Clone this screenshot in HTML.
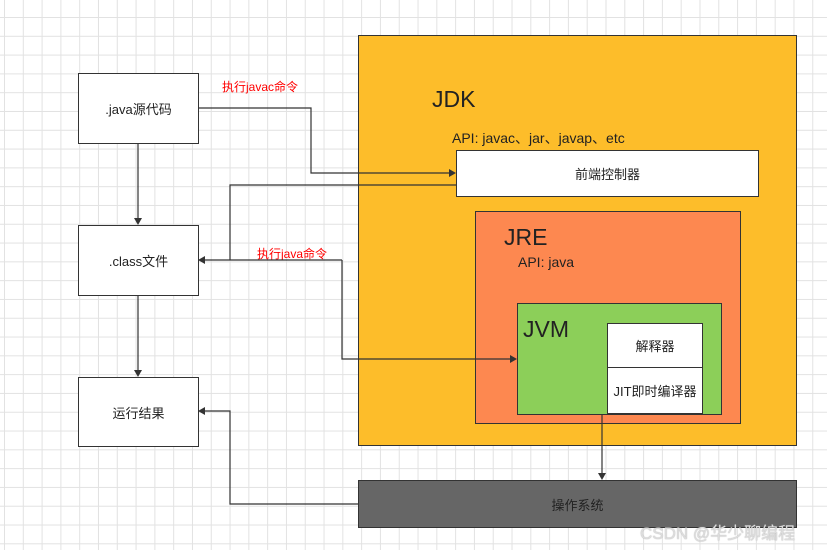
<!DOCTYPE html>
<html><head><meta charset="utf-8"><style>
html,body{margin:0;padding:0;}
body{width:827px;height:550px;overflow:hidden;position:relative;background-color:#fff;
background-image:linear-gradient(#e2e2e2 1px,transparent 1px),linear-gradient(90deg,#e2e2e2 1px,transparent 1px);
background-size:18.8px 18.8px;background-position:4px 17px;font-family:"Liberation Sans","Noto Sans CJK SC",sans-serif;}
.b{position:absolute;box-sizing:border-box;border:1px solid #333;display:flex;align-items:center;justify-content:center;font-size:13px;color:#222;}
.t{position:absolute;white-space:nowrap;color:#222;}
svg{position:absolute;left:0;top:0;}
</style></head><body>
<div class="b" style="left:78px;top:73px;width:121px;height:71px;background:#fff">.java源代码</div>
<div class="b" style="left:78px;top:225px;width:121px;height:71px;background:#fff">.class文件</div>
<div class="b" style="left:78px;top:377px;width:121px;height:70px;background:#fff">运行结果</div>
<div class="b" style="left:358px;top:35px;width:439px;height:411px;background:#fdbd2a"></div>
<div class="b" style="left:456px;top:150px;width:303px;height:47px;background:#fff">前端控制器</div>
<div class="b" style="left:475px;top:211px;width:266px;height:213px;background:#fd8850"></div>
<div class="b" style="left:517px;top:303px;width:205px;height:112px;background:#8ccf59"></div>
<div class="b" style="left:607px;top:323px;width:96px;height:45px;background:#fff">解释器</div>
<div class="b" style="left:607px;top:367px;width:96px;height:47px;background:#fff">JIT即时编译器</div>
<div class="b" style="left:358px;top:480px;width:439px;height:48px;background:#666">操作系统</div>
<div class="t" style="left:432px;top:86px;font-size:23px">JDK</div>
<div class="t" style="left:452px;top:128px;font-size:14px">API: javac、jar、javap、etc</div>
<div class="t" style="left:504px;top:224px;font-size:23px">JRE</div>
<div class="t" style="left:518px;top:254px;font-size:14px">API: java</div>
<div class="t" style="left:523px;top:316px;font-size:23px">JVM</div>
<div class="t" style="left:222px;top:78px;font-size:12px;color:#f00">执行javac命令</div>
<div class="t" style="left:257px;top:245px;font-size:12px;color:#f00">执行java命令</div>
<div class="t" style="left:640px;top:519px;font-size:17px;color:#ddd;text-shadow:0 0 1px #999">CSDN @华少聊编程</div>
<svg width="827" height="550" fill="none" stroke="#333" stroke-width="1.2">
<polyline points="199,108 311,108 311,173 451,173"/>
<polyline points="457,185 230,185 230,260"/>
<polyline points="342,260 203,260"/>
<polyline points="342,260 342,359 512,359"/>
<polyline points="358,504 230,504 230,411 203,411"/>
<polyline points="602,415 602,475"/>
<polyline points="138,144 138,220"/>
<polyline points="138,296 138,372"/>
<g fill="#333" stroke="none">
<polygon points="456,173 449,169 449,177"/>
<polygon points="198,260 205,256 205,264"/>
<polygon points="517,359 510,355 510,363"/>
<polygon points="198,411 205,407 205,415"/>
<polygon points="602,480 598,473 606,473"/>
<polygon points="138,225 134,218 142,218"/>
<polygon points="138,377 134,370 142,370"/>
</g></svg>
</body></html>
